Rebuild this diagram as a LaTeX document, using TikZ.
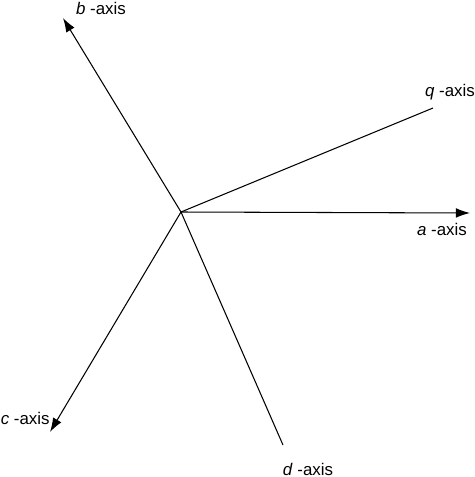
\documentclass[tikz,border=0pt]{standalone}
\usepackage{fontspec}
\setmainfont{Liberation Sans}
\usetikzlibrary{arrows.meta}
\begin{document}
\begin{tikzpicture}
	[x=0.02cm,y=-0.02cm,
	axis/.style={line width=0.6pt,black},
	axisarrow/.style={axis,-{Latex[length=8pt,width=5.5pt]}},
	axislabel/.style={font=\fontsize{9.6}{11}\selectfont,inner sep=0pt}]
	\useasboundingbox (0,0) rectangle (474,477);
	\coordinate (O) at (181,212);
	\coordinate (atip) at (470,213);
	\coordinate (btip) at (63,18);
	\coordinate (ctip) at (50,432);
	\coordinate (dend) at (283,445);
	\coordinate (qend) at (433,108);
	\draw[axisarrow] (O) -- (atip);
	\draw[axisarrow] (O) -- (btip);
	\draw[axisarrow] (O) -- (ctip);
	\draw[axis] (O) -- (dend);
	\draw[axis] (O) -- (qend);
	\node[axislabel,name=alabel] at (442,229) {\textit{a} -axis};
	\node[axislabel,name=blabel] at (101,8) {\textit{b} -axis};
	\node[axislabel,name=clabel,anchor=west] at (0.5,418) {\textit{c} -axis};
	\node[axislabel,name=dlabel] at (308,469) {\textit{d} -axis};
	\node[axislabel,name=qlabel] at (450,92) {\textit{q} -axis};
\end{tikzpicture}
\end{document}
